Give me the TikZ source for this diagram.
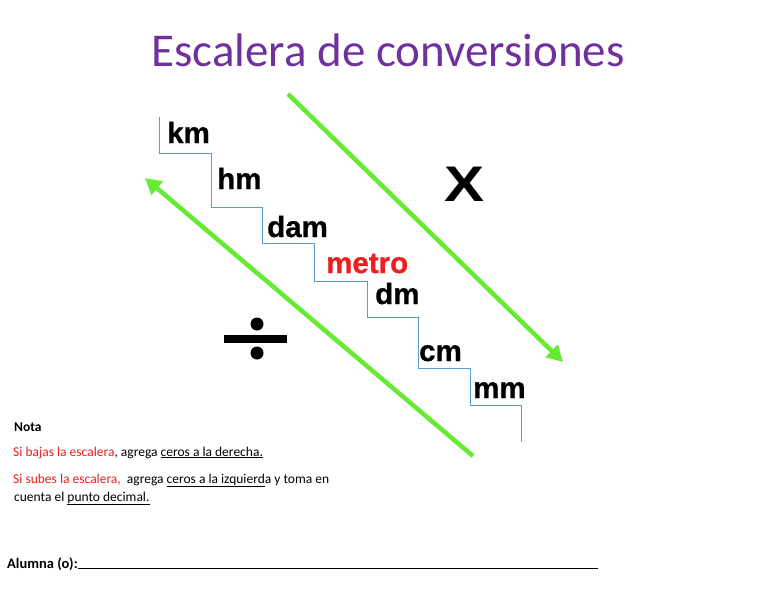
\documentclass[tikz,border=0pt]{standalone}
\usepackage{fontspec}
\setmainfont{Carlito}
\newfontfamily\arialfont{Liberation Sans}
\newfontfamily\unitfont[FakeBold=0.8]{Liberation Sans Bold}
\usetikzlibrary{arrows.meta}
\definecolor{ttl}{RGB}{112,48,160}
\definecolor{stair}{RGB}{91,155,213}
\definecolor{grn}{RGB}{102,235,50}
\definecolor{rd}{RGB}{238,30,30}
\tikzset{
  unit/.style={font=\unitfont\fontsize{29.5}{31}\selectfont, inner sep=0pt, anchor=base west},
  garrow/.style={draw=grn, line width=4.5pt, -{Triangle[length=16pt,width=17pt]}},
  note/.style={font=\fontsize{13.5}{15}\selectfont, inner sep=0pt, anchor=base west},
}
\begin{document}
\begin{tikzpicture}[x=1pt,y=-1pt]
\useasboundingbox (0,0) rectangle (768,594);
\fill[white] (0,0) rectangle (768,594);
% title
\node[font=\fontsize{47}{50}\selectfont, text=ttl, inner sep=0pt] (title) at (388,50) {Escalera de conversiones};
% stairs
\draw[stair, line width=1pt] (159,117) -- (159,153) -- (211,153) -- (211,207) -- (262,207) -- (262,243) -- (314,243) -- (314,281) -- (367,281) -- (367,317) -- (418,317) -- (418,368) -- (470,368) -- (470,405) -- (521,405) -- (521,442);
% labels
\node[unit] (km) at (167,143) {km};
\node[unit] (hm) at (217,189) {hm};
\node[unit] (dam) at (267,237) {dam};
\node[unit, text=rd] (metro) at (326,273) {metro};
\node[unit] (dm) at (375,304) {dm};
\node[unit] (cm) at (419,361) {cm};
\node[unit] (mm) at (473,398) {mm};
% arrows
\coordinate (a1s) at (288,94);
\coordinate (a1e) at (563,362);
\coordinate (a2s) at (473,456);
\coordinate (a2e) at (145,178);
\draw[garrow] (a1s) -- (a1e);
\draw[garrow] (a2s) -- (a2e);
% X
\node[font=\arialfont\bfseries\fontsize{50}{54}\selectfont, inner sep=0pt, xscale=1.2] (times) at (465,184) {X};
% division sign
\fill (224,334.5) rectangle (287,343);
\fill (257,324) circle (6.5);
\fill (257,353) circle (6.5);
% note
\node[note, font=\bfseries\fontsize{13.5}{15}\selectfont] (nota) at (14,431) {Nota};
\node[note] (l1) at (13,456) {\textcolor{rd}{Si bajas la escalera}, agrega \underline{ceros a la derecha.}};
\node[note] (l2) at (13,483) {\textcolor{rd}{Si subes la escalera,}\ \ agrega \underline{ceros a la izquierd}a y toma en};
\node[note] (l3) at (14,501) {cuenta el \underline{punto decimal.}};
% alumna
\node[note, font=\bfseries\fontsize{14.5}{16}\selectfont] (alumna) at (7,568) {Alumna (o):};
\draw[line width=0.8pt] (alumna.base east) -- (598,568);
\end{tikzpicture}
\end{document}
